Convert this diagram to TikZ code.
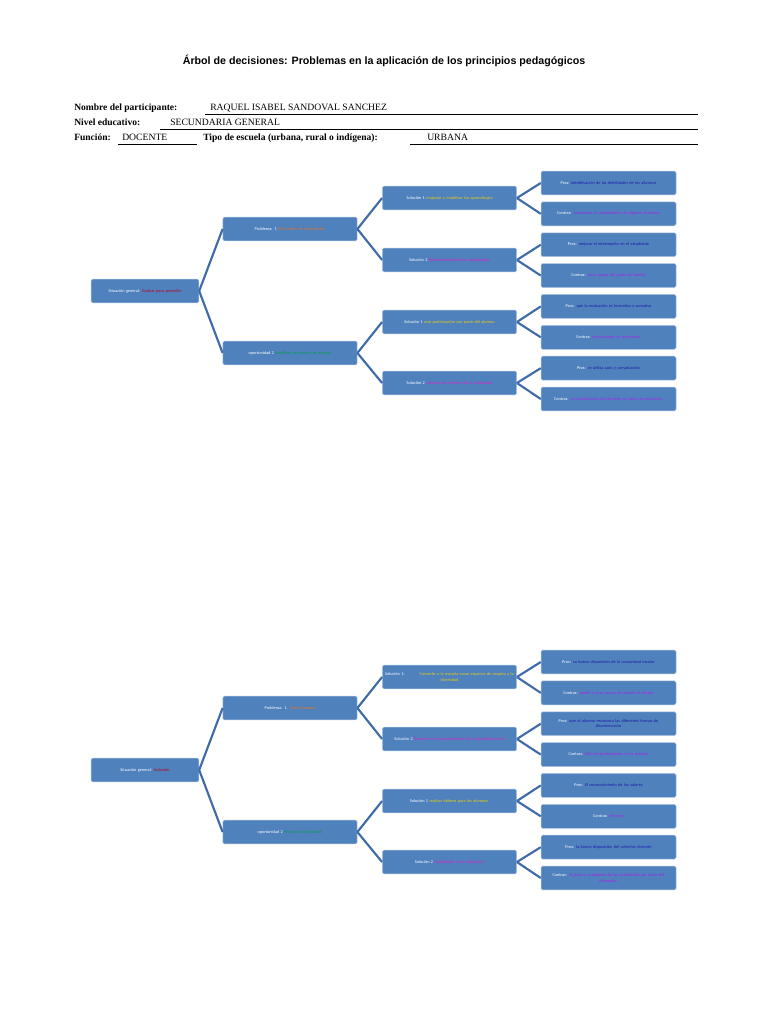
\documentclass[tikz,border=0pt]{standalone}
\usepackage{fontspec}
\setmainfont{Liberation Serif}
\setsansfont{Liberation Sans}
\newfontfamily\boxfont{Carlito}
\usetikzlibrary{positioning}
\definecolor{boxblue}{HTML}{4F81BD}
\definecolor{linkblue}{HTML}{3F6CA8}
\definecolor{sitred}{HTML}{C00018}
\definecolor{probor}{HTML}{E8741C}
\definecolor{oporgreen}{HTML}{00A040}
\definecolor{solyel}{HTML}{E8CC10}
\definecolor{solmag}{HTML}{E020C8}
\definecolor{prosblue}{HTML}{1C1CA8}
\definecolor{contpur}{HTML}{A824E8}

\begin{document}
\begin{tikzpicture}[
  x=0.28mm, y=-0.28mm,
  hdr/.style={anchor=base west, inner sep=0pt, font=\bfseries\fontsize{7.6}{9}\selectfont},
  hval/.style={anchor=base west, inner sep=0pt, font=\fontsize{7.7}{9}\selectfont},
  rule/.style={line width=0.5pt},
  box/.style={draw=white!55!boxblue, fill=boxblue, rounded corners=1.2pt, text=white, align=center, inner sep=1pt, minimum height=6.7mm, font=\boxfont\fontsize{3.4}{4.1}\selectfont},
  sitbox/.style={box, minimum width=30.2mm, text width=28mm},
  midbox/.style={box, minimum width=37.6mm, text width=36.5mm},
  leaf/.style={box, minimum width=37.8mm, text width=36.5mm},
  link/.style={draw=linkblue, line width=1.7pt}
]
  \fill[white] (0,0) rectangle (768,1024);
  \useasboundingbox (0,0) rectangle (768,1024);

  % encabezado
  \node[anchor=base, inner sep=0pt, font=\sffamily\bfseries\fontsize{8.5}{10}\selectfont] (titulo) at (384,65)
    {Árbol de decisiones: Problemas en la aplicación de los principios pedagógicos};
  \node[hdr] (nomlbl) at (74,111) {Nombre del participante:};
  \node[hval] (nomval) at (210,111) {RAQUEL ISABEL SANDOVAL SANCHEZ};
  \node[hdr] (nivlbl) at (74,126) {Nivel educativo:};
  \node[hval] (nivval) at (170,126) {SECUNDARIA GENERAL};
  \node[hdr] (funlbl) at (74,141) {Función:};
  \node[hval] (funval) at (122,141) {DOCENTE};
  \node[hdr] (tiplbl) at (203,141) {Tipo de escuela (urbana, rural o indígena):};
  \node[hval] (tipval) at (427,141) {URBANA};
  \draw[rule] (205,114) -- (698,114);
  \draw[rule] (160,129) -- (698,129);
  \draw[rule] (118,144) -- (197,144);
  \draw[rule] (410,144) -- (698,144);

  % arbol 1
  \node[sitbox] (sitA) at (145,291) {Situación general: \textcolor{sitred}{Evaluar para aprender}};
  \node[midbox] (probA) at (290,229) {Problema: 1 \textcolor{probor}{Alto índice de reprobación}};
  \node[midbox] (oporA) at (290,353) {oportunidad 2 \textcolor{oporgreen}{modificar las formas de evaluar}};
  \node[midbox] (solA1) at (449.5,198) {Solución 1 \textcolor{solyel}{reajustar y modificar los aprendizajes}};
  \node[midbox] (solA2) at (449.5,260) {Solución 2 \textcolor{solmag}{Retroalimentación de aprendizajes}};
  \node[midbox] (solA3) at (449.5,322) {Solución 1 \textcolor{solyel}{más participación por parte del alumno}};
  \node[midbox] (solA4) at (449.5,383) {Solución 2 \textcolor{solmag}{conocer los criterios de la evaluación}};
  \node[leaf] (proA1) at (608.5,183) {Pros: \textcolor{prosblue}{identificación de las debilidades de los alumnos}};
  \node[leaf, below=1.8mm of proA1] (conA1) {Contras: \textcolor{contpur}{resistencia al cumplimiento de algunos docentes}};
  \node[leaf, below=1.8mm of conA1] (proA2) {Pros: \textcolor{prosblue}{mejorar el desempeño en el estudiante}};
  \node[leaf, below=1.8mm of proA2] (conA2) {Contras: \textcolor{contpur}{poco apoyo del padre de familia}};
  \node[leaf, below=1.8mm of conA2] (proA3) {Pros: \textcolor{prosblue}{que la evaluación es formativa y sumativa}};
  \node[leaf, below=1.8mm of proA3] (conA3) {Contras: \textcolor{contpur}{evaluaciones no adecuadas}};
  \node[leaf, below=1.8mm of conA3] (proA4) {Pros: \textcolor{prosblue}{se utiliza auto y coevaluación}};
  \node[leaf, below=1.8mm of proA4] (conA4) {Contras: \textcolor{contpur}{no actualización del docente en tipos de evaluación}};

  \draw[link] (sitA.east) -- (probA.west);
  \draw[link] (sitA.east) -- (oporA.west);
  \draw[link] (probA.east) -- (solA1.west);
  \draw[link] (probA.east) -- (solA2.west);
  \draw[link] (oporA.east) -- (solA3.west);
  \draw[link] (oporA.east) -- (solA4.west);
  \draw[link] (solA1.east) -- (proA1.west);
  \draw[link] (solA1.east) -- (conA1.west);
  \draw[link] (solA2.east) -- (proA2.west);
  \draw[link] (solA2.east) -- (conA2.west);
  \draw[link] (solA3.east) -- (proA3.west);
  \draw[link] (solA3.east) -- (conA3.west);
  \draw[link] (solA4.east) -- (proA4.west);
  \draw[link] (solA4.east) -- (conA4.west);

  % arbol 2
  \begin{scope}[shift={(0,479)}]
  \node[sitbox] (sitB) at (145,291) {Situación general: \textcolor{sitred}{Inclusión}};
  \node[midbox] (probB) at (290,229) {Problema: 1. \textcolor{probor}{Discriminación}};
  \node[midbox] (oporB) at (290,353) {oportunidad 2 \textcolor{oporgreen}{Promover la inclusión}};
  \node[midbox] (solB1) at (449.5,198) {Solución 1:\hspace{12pt}\textcolor{solyel}{Convertir a la escuela como espacios de respeto a la}\\\textcolor{solyel}{diversidad}};
  \node[midbox] (solB2) at (449.5,260) {Solución 2 \textcolor{solmag}{Promover el reconocimiento de la pluralidad social}};
  \node[midbox] (solB3) at (449.5,322) {Solución 1 \textcolor{solyel}{realizar talleres para los alumnos.}};
  \node[midbox] (solB4) at (449.5,383) {Solución 2 \textcolor{solmag}{Actividades socio culturales.}};
  \node[leaf] (proB1) at (608.5,183) {Pros: \textcolor{prosblue}{La buena disposición de la comunidad escolar}};
  \node[leaf, below=1.8mm of proB1] (conB1) {Contras: \textcolor{contpur}{apatía y poco apoyo de padres de familia}};
  \node[leaf, below=1.8mm of conB1] (proB2) {Pros: \textcolor{prosblue}{que el alumno reconozca las diferentes formas de}\\\textcolor{prosblue}{discriminación}};
  \node[leaf, below=1.8mm of proB2] (conB2) {Contras: \textcolor{contpur}{falta de profesionales en la materia}};
  \node[leaf, below=1.8mm of conB2] (proB3) {Pros: \textcolor{prosblue}{El reconocimiento de los valores}};
  \node[leaf, below=1.8mm of proB3] (conB3) {Contras: \textcolor{contpur}{tiempos}};
  \node[leaf, below=1.8mm of conB3] (proB4) {Pros: \textcolor{prosblue}{la buena disposición del colectivo docente}};
  \node[leaf, below=1.8mm of proB4] (conB4) {Contras: \textcolor{contpur}{el gusto y aceptación de las actividades por parte del}\\\textcolor{contpur}{alumnado.}};

  \draw[link] (sitB.east) -- (probB.west);
  \draw[link] (sitB.east) -- (oporB.west);
  \draw[link] (probB.east) -- (solB1.west);
  \draw[link] (probB.east) -- (solB2.west);
  \draw[link] (oporB.east) -- (solB3.west);
  \draw[link] (oporB.east) -- (solB4.west);
  \draw[link] (solB1.east) -- (proB1.west);
  \draw[link] (solB1.east) -- (conB1.west);
  \draw[link] (solB2.east) -- (proB2.west);
  \draw[link] (solB2.east) -- (conB2.west);
  \draw[link] (solB3.east) -- (proB3.west);
  \draw[link] (solB3.east) -- (conB3.west);
  \draw[link] (solB4.east) -- (proB4.west);
  \draw[link] (solB4.east) -- (conB4.west);
  \end{scope}
\end{tikzpicture}
\end{document}
